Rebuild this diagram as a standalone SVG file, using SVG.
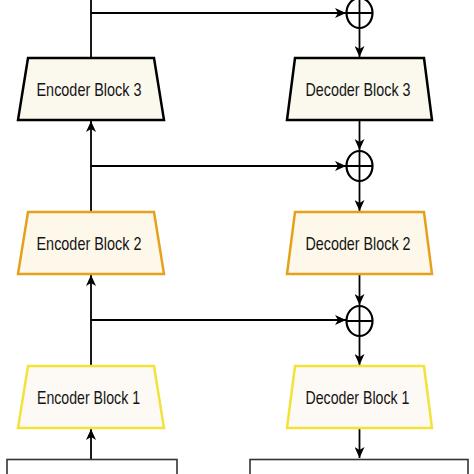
<svg xmlns="http://www.w3.org/2000/svg" width="474" height="474" viewBox="0 0 474 474">
<style>
.lbl{font-family:"Liberation Sans",Arial,sans-serif;font-size:19px;fill:#151515;text-anchor:middle}
.b3{fill:#fbf9ee;stroke:#000;stroke-width:2.5}
.b2{fill:#fdf8ea;stroke:#e6a11c;stroke-width:2.5}
.b1{fill:#fdf9f4;stroke:#f2e23a;stroke-width:2.5}
.c{fill:none;stroke:#000;stroke-width:1.8}
.ca{fill:none;stroke:#000;stroke-width:1.8;marker-end:url(#ah)}
.sum{fill:#fff;stroke:#000;stroke-width:2.2}
.box{fill:#fff;stroke:#333;stroke-width:1.6}
</style>
<defs>
<marker id="ah" markerUnits="userSpaceOnUse" markerWidth="12" markerHeight="10" refX="11" refY="5" orient="auto">
<path d="M0,0 L11,5 L0,10 L3,5 Z" fill="#000"/>
</marker>
</defs>
<g id="connectors">
<line class="c" x1="91" y1="0" x2="91" y2="58"/>
<line class="ca" x1="91" y1="212" x2="91" y2="121"/>
<line class="ca" x1="91" y1="366" x2="91" y2="275"/>
<line class="ca" x1="91" y1="459" x2="91" y2="429"/>
<line class="ca" x1="91" y1="13" x2="346" y2="13"/>
<line class="ca" x1="91" y1="166" x2="346" y2="166"/>
<line class="ca" x1="91" y1="320" x2="346" y2="320"/>
<line class="ca" x1="359.5" y1="28" x2="359.5" y2="57"/>
<line class="ca" x1="359.5" y1="120" x2="359.5" y2="150"/>
<line class="ca" x1="359.5" y1="181" x2="359.5" y2="211"/>
<line class="ca" x1="359.5" y1="274" x2="359.5" y2="305"/>
<line class="ca" x1="359.5" y1="336" x2="359.5" y2="365"/>
<line class="ca" x1="359.5" y1="428" x2="359.5" y2="458"/>
</g>
<g id="sum3">
<ellipse class="sum" cx="359.5" cy="13" rx="13" ry="15"/>
<path class="c" d="M359.5,-2 V28 M346.5,13 H372.5" stroke-width="2.2"/>
</g>
<g id="sum2">
<ellipse class="sum" cx="359.5" cy="166" rx="13" ry="15"/>
<path class="c" d="M359.5,151 V181 M346.5,166 H372.5" stroke-width="2.2"/>
</g>
<g id="sum1">
<ellipse class="sum" cx="359.5" cy="321" rx="13" ry="15"/>
<path class="c" d="M359.5,306 V336 M346.5,321 H372.5" stroke-width="2.2"/>
</g>
<g id="enc3">
<polygon class="b3" points="28,58 154,58 164,120 18,120"/>
<text class="lbl" x="89" y="95.5" textLength="105" lengthAdjust="spacingAndGlyphs">Encoder Block 3</text>
</g>
<g id="dec3">
<polygon class="b3" points="295,58 424,58 432,120 287,120"/>
<text class="lbl" x="358" y="95.5" textLength="105" lengthAdjust="spacingAndGlyphs">Decoder Block 3</text>
</g>
<g id="enc2">
<polygon class="b2" points="28,212 154,212 164,274 18,274"/>
<text class="lbl" x="89" y="249.5" textLength="105" lengthAdjust="spacingAndGlyphs">Encoder Block 2</text>
</g>
<g id="dec2">
<polygon class="b2" points="295,212 424,212 432,274 287,274"/>
<text class="lbl" x="358" y="249.5" textLength="105" lengthAdjust="spacingAndGlyphs">Decoder Block 2</text>
</g>
<g id="enc1">
<polygon class="b1" points="28,366 154,366 164,428 18,428"/>
<text class="lbl" x="88.5" y="403.5" textLength="103" lengthAdjust="spacingAndGlyphs">Encoder Block 1</text>
</g>
<g id="dec1">
<polygon class="b1" points="295,366 424,366 432,428 287,428"/>
<text class="lbl" x="357.5" y="403.5" textLength="104" lengthAdjust="spacingAndGlyphs">Decoder Block 1</text>
</g>
<g id="input">
<rect class="box" x="7" y="459.5" width="170" height="30"/>
</g>
<g id="output">
<rect class="box" x="250" y="459.5" width="218" height="30"/>
</g>
</svg>
